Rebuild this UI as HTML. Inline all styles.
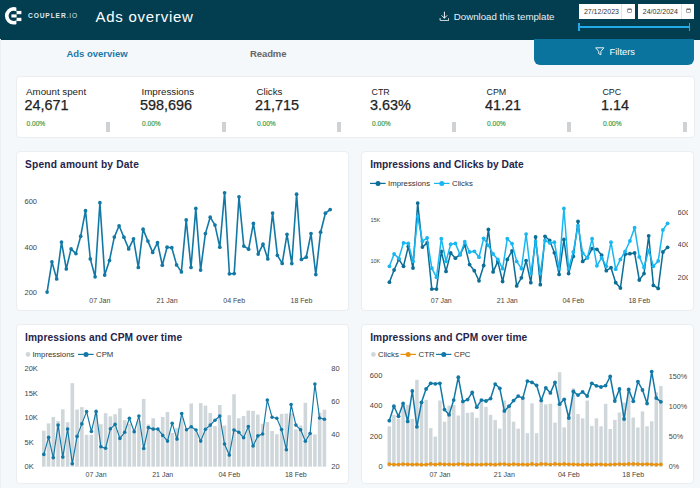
<!DOCTYPE html>
<html><head><meta charset="utf-8"><title>Ads overview</title>
<style>
html,body{margin:0;padding:0;background:#f5f8fa}
body{width:700px;height:488px;overflow:hidden;background:#f5f8fa;font-family:"Liberation Sans",sans-serif;position:relative;color:#333}
.abs{position:absolute}
.hdr{position:absolute;left:0;top:0;width:700px;height:40.1px;background:#033d50}
.t{position:absolute;white-space:nowrap;line-height:1}
.card{position:absolute;background:#fff;border:1px solid #eaeef1;border-radius:4px;box-sizing:border-box}
.ttl{font-weight:bold;font-size:10.2px;color:#25244a}
.ax{font-size:7.5px;color:#444}
.axd{font-size:7px;color:#444}
.axs{font-size:5.5px;color:#444}
.clip{width:10px;overflow:hidden}
.lg{font-size:7.8px;color:#333}
.kn{font-size:9.75px;color:#222}
.kv{font-size:14.4px;color:#222;-webkit-text-stroke:0.25px #222}
.kp{font-size:6.6px;color:#389a42;-webkit-text-stroke:0.15px #389a42}
.kb{position:absolute;width:4px;height:10px;background:#cfd2d4}
.plot{position:absolute;left:0;top:0}
</style></head><body>
<div class="hdr"></div>
<div class="abs" style="left:0;top:39px;width:1.2px;height:449px;background:#ebf0f3"></div>
<!-- logo -->
<svg class="abs" style="left:0;top:0" width="30" height="32" viewBox="0 0 30 32"><defs><clipPath id="lc"><rect x="0" y="0" width="16.4" height="32"/></clipPath></defs><circle cx="13.65" cy="15.85" r="6.9" fill="none" stroke="#fff" stroke-width="3.7" clip-path="url(#lc)"/><rect x="11.4" y="14.4" width="5.2" height="3.1" fill="#fff"/><rect x="16.6" y="10.9" width="4.8" height="3.3" fill="#fff"/><rect x="16.6" y="17.8" width="4.8" height="3.3" fill="#fff"/></svg>
<div class="t " style="left:28px;top:16.2px;transform:translate(0,-50%);font-size:6.6px;color:#dfe9ed;font-weight:bold;letter-spacing:0.9px">COUPLER<span style='font-weight:normal'>.IO</span></div>
<div class="t " style="left:95.5px;top:16.4px;transform:translate(0,-50%);font-size:15px;color:#fff;letter-spacing:0.75px">Ads overview</div>
<svg class="abs" style="left:438.7px;top:10.6px" width="10.8" height="10.8" viewBox="0 0 10 10" fill="none" stroke="#fff" stroke-width="0.9" stroke-linecap="round" stroke-linejoin="round"><path d="M5 1v5.5M2.7 4.3L5 6.6l2.3-2.3M1 7v1.3c0 .4.3.7.7.7h6.6c.4 0 .7-.3.7-.7V7"/></svg>
<div class="t " style="left:453.8px;top:16.6px;transform:translate(0,-50%);font-size:9.7px;color:#eaf1f4">Download this template</div>
<div class="abs" style="left:579.3px;top:3.5px;width:55.7px;height:15px;background:#fff"></div>
<div class="abs" style="left:638.2px;top:3.5px;width:55.7px;height:15px;background:#fff"></div>
<div class="abs" style="left:621.4px;top:3.5px;width:0.6px;height:15px;background:#e3e3e3"></div>
<div class="abs" style="left:680.6px;top:3.5px;width:0.6px;height:15px;background:#e3e3e3"></div>
<div class="t " style="left:583.9px;top:10.8px;transform:translate(0,-50%);font-size:7px;color:#333">27/12/2023</div>
<div class="t " style="left:642.8px;top:10.8px;transform:translate(0,-50%);font-size:7px;color:#333">24/02/2024</div>
<svg class="abs" style="left:626.9px;top:8.3px" width="5" height="5" viewBox="0 0 5 5"><rect x="0.5" y="0.8" width="4" height="3.7" rx="0.6" fill="none" stroke="#777" stroke-width="0.7"/><rect x="0.5" y="0.8" width="4" height="1.2" fill="#777"/></svg>
<svg class="abs" style="left:685.5px;top:8.3px" width="5" height="5" viewBox="0 0 5 5"><rect x="0.5" y="0.8" width="4" height="3.7" rx="0.6" fill="none" stroke="#777" stroke-width="0.7"/><rect x="0.5" y="0.8" width="4" height="1.2" fill="#777"/></svg>
<div class="abs" style="left:578.5px;top:26.1px;width:111.8px;height:1.7px;background:#22aae6"></div>
<div class="abs" style="left:578.4px;top:22.5px;width:1.9px;height:8.8px;background:#22aae6"></div>
<div class="abs" style="left:688.6px;top:22.5px;width:1.9px;height:8.8px;background:#22aae6"></div>
<!-- tabs -->
<div class="t " style="left:97px;top:53.9px;transform:translate(-50%,-50%);font-size:9.5px;font-weight:bold;color:#1b79a8">Ads overview</div>
<div class="t " style="left:268.2px;top:53.9px;transform:translate(-50%,-50%);font-size:9.5px;letter-spacing:-0.1px;font-weight:bold;color:#666">Readme</div>
<div class="abs" style="left:534.2px;top:39px;width:160.3px;height:26.2px;background:#0a749e;border-radius:0 0 6px 6px"></div>
<svg class="abs" style="left:595.3px;top:47.2px" width="10" height="9" viewBox="0 0 10 9" fill="none" stroke="#fff" stroke-width="0.9" stroke-linejoin="round"><path d="M0.7 0.8h8.2L5.9 4.4v3.4L3.7 6.6V4.4z"/></svg>
<div class="t " style="left:609.6px;top:53.1px;transform:translate(0,-50%);font-size:9.3px;color:#fff">Filters</div>
<!-- kpi card -->
<div class="card" style="left:16px;top:76px;width:678.5px;height:62px"></div>
<div class="t kn" style="left:26px;top:91.5px;transform:translate(0,-50%);">Amount spent</div>
<div class="t kv" style="left:24.5px;top:104.8px;transform:translate(0,-50%);">24,671</div>
<div class="t kp" style="left:26.5px;top:124.2px;transform:translate(0,-50%);">0.00%</div>
<div class="kb" style="left:106.3px;top:121.5px"></div>
<div class="t kn" style="left:141.5px;top:91.5px;transform:translate(0,-50%);">Impressions</div>
<div class="t kv" style="left:140.0px;top:104.8px;transform:translate(0,-50%);">598,696</div>
<div class="t kp" style="left:142.0px;top:124.2px;transform:translate(0,-50%);">0.00%</div>
<div class="kb" style="left:221.8px;top:121.5px"></div>
<div class="t kn" style="left:256.5px;top:91.5px;transform:translate(0,-50%);">Clicks</div>
<div class="t kv" style="left:255.0px;top:104.8px;transform:translate(0,-50%);">21,715</div>
<div class="t kp" style="left:257.0px;top:124.2px;transform:translate(0,-50%);">0.00%</div>
<div class="kb" style="left:336.8px;top:121.5px"></div>
<div class="t kn" style="left:371.5px;top:91.5px;transform:translate(0,-50%);font-size:8.9px">CTR</div>
<div class="t kv" style="left:370.0px;top:104.8px;transform:translate(0,-50%);">3.63%</div>
<div class="t kp" style="left:372.0px;top:124.2px;transform:translate(0,-50%);">0.00%</div>
<div class="kb" style="left:451.8px;top:121.5px"></div>
<div class="t kn" style="left:486.5px;top:91.5px;transform:translate(0,-50%);font-size:8.9px">CPM</div>
<div class="t kv" style="left:485.0px;top:104.8px;transform:translate(0,-50%);">41.21</div>
<div class="t kp" style="left:487.0px;top:124.2px;transform:translate(0,-50%);">0.00%</div>
<div class="kb" style="left:566.8px;top:121.5px"></div>
<div class="t kn" style="left:602.4px;top:91.5px;transform:translate(0,-50%);font-size:8.9px">CPC</div>
<div class="t kv" style="left:600.9px;top:104.8px;transform:translate(0,-50%);">1.14</div>
<div class="t kp" style="left:602.9px;top:124.2px;transform:translate(0,-50%);">0.00%</div>
<div class="kb" style="left:682.6999999999999px;top:121.5px"></div>
<!-- chart cards -->
<div class="card" style="left:16px;top:151px;width:333px;height:160px"></div>
<div class="card" style="left:361px;top:151px;width:333px;height:160px"></div>
<div class="card" style="left:16px;top:324px;width:333px;height:160px"></div>
<div class="card" style="left:361px;top:324px;width:333px;height:160px"></div>
<div class="t ttl" style="left:25px;top:164.8px;transform:translate(0,-50%);letter-spacing:0.18px">Spend amount by Date</div>
<div class="t ttl" style="left:370.2px;top:164.8px;transform:translate(0,-50%);">Impressions and Clicks by Date</div>
<div class="t ttl" style="left:25px;top:337.7px;transform:translate(0,-50%);letter-spacing:0.09px">Impressions and CPM over time</div>
<div class="t ttl" style="left:370.2px;top:337.7px;transform:translate(0,-50%);letter-spacing:0.09px">Impressions and CPM over time</div>
<!-- legends -->
<svg class="plot" width="700" height="488" viewBox="0 0 700 488">
<line x1="370" y1="183.4" x2="385.6" y2="183.4" stroke="#0c6e97" stroke-width="1.2"/><circle cx="378" cy="183.4" r="2.5" fill="#0c6e97"/>
<line x1="434" y1="183.4" x2="449.6" y2="183.4" stroke="#18b7f2" stroke-width="1.2"/><circle cx="441.8" cy="183.4" r="2.5" fill="#18b7f2"/>
<circle cx="28" cy="354.4" r="2.3" fill="#d0d7db"/>
<line x1="78" y1="354.4" x2="93.6" y2="354.4" stroke="#1278a6" stroke-width="1.2"/><circle cx="86" cy="354.4" r="2.5" fill="#1278a6"/>
<circle cx="373.4" cy="354.4" r="2.3" fill="#d0d7db"/>
<line x1="400.4" y1="354.4" x2="416" y2="354.4" stroke="#e8920f" stroke-width="1.2"/><circle cx="408.2" cy="354.4" r="2.5" fill="#e8920f"/>
<line x1="436" y1="354.4" x2="451.4" y2="354.4" stroke="#1278a6" stroke-width="1.2"/><circle cx="443.8" cy="354.4" r="2.5" fill="#1278a6"/>
</svg>
<div class="t lg" style="left:388px;top:184.0px;transform:translate(0,-50%);">Impressions</div>
<div class="t lg" style="left:452px;top:184.0px;transform:translate(0,-50%);">Clicks</div>
<div class="t lg" style="left:32.4px;top:355.0px;transform:translate(0,-50%);">Impressions</div>
<div class="t lg" style="left:96px;top:355.0px;transform:translate(0,-50%);">CPM</div>
<div class="t lg" style="left:378px;top:355.0px;transform:translate(0,-50%);">Clicks</div>
<div class="t lg" style="left:418.6px;top:355.0px;transform:translate(0,-50%);">CTR</div>
<div class="t lg" style="left:454px;top:355.0px;transform:translate(0,-50%);">CPC</div>
<svg class="plot" width="700" height="488" viewBox="0 0 700 488">
<polyline fill="none" stroke="#1278a6" stroke-width="1.6" stroke-linejoin="round" points="47.1,292.1 51.9,261.8 56.7,278.9 61.5,242.1 66.3,268.9 71.1,248.9 75.9,253.6 80.7,236.2 85.5,210.7 90.3,258.9 95.1,276.8 99.9,202.7 104.7,275.1 109.5,260.4 114.3,237.1 119.1,225.8 123.9,237.2 128.7,248.9 133.5,238.8 138.3,267.4 143.1,229.2 147.9,241.1 152.7,252.4 157.5,242.7 162.3,265.2 167.1,247.2 171.8,247.7 176.6,264.9 181.4,271.9 186.2,219.9 191.0,267.4 195.8,208.4 200.6,270.1 205.4,233.6 210.2,217.2 215.0,225.1 219.8,247.2 224.6,192.8 229.4,273.8 234.2,273.6 239.0,196.8 243.8,246.1 248.6,249.2 253.4,223.4 258.2,254.1 263.0,244.2 267.8,258.9 272.6,213.1 277.4,255.3 282.2,263.4 287.0,234.3 291.8,263.6 296.6,194.2 301.4,259.4 306.2,257.2 311.0,233.6 315.8,274.6 320.6,232.2 325.4,213.2 330.2,209.6"/>
<circle cx="47.1" cy="292.1" r="1.85" fill="#1278a6"/><circle cx="51.9" cy="261.8" r="1.85" fill="#1278a6"/><circle cx="56.7" cy="278.9" r="1.85" fill="#1278a6"/><circle cx="61.5" cy="242.1" r="1.85" fill="#1278a6"/><circle cx="66.3" cy="268.9" r="1.85" fill="#1278a6"/><circle cx="71.1" cy="248.9" r="1.85" fill="#1278a6"/><circle cx="75.9" cy="253.6" r="1.85" fill="#1278a6"/><circle cx="80.7" cy="236.2" r="1.85" fill="#1278a6"/><circle cx="85.5" cy="210.7" r="1.85" fill="#1278a6"/><circle cx="90.3" cy="258.9" r="1.85" fill="#1278a6"/><circle cx="95.1" cy="276.8" r="1.85" fill="#1278a6"/><circle cx="99.9" cy="202.7" r="1.85" fill="#1278a6"/><circle cx="104.7" cy="275.1" r="1.85" fill="#1278a6"/><circle cx="109.5" cy="260.4" r="1.85" fill="#1278a6"/><circle cx="114.3" cy="237.1" r="1.85" fill="#1278a6"/><circle cx="119.1" cy="225.8" r="1.85" fill="#1278a6"/><circle cx="123.9" cy="237.2" r="1.85" fill="#1278a6"/><circle cx="128.7" cy="248.9" r="1.85" fill="#1278a6"/><circle cx="133.5" cy="238.8" r="1.85" fill="#1278a6"/><circle cx="138.3" cy="267.4" r="1.85" fill="#1278a6"/><circle cx="143.1" cy="229.2" r="1.85" fill="#1278a6"/><circle cx="147.9" cy="241.1" r="1.85" fill="#1278a6"/><circle cx="152.7" cy="252.4" r="1.85" fill="#1278a6"/><circle cx="157.5" cy="242.7" r="1.85" fill="#1278a6"/><circle cx="162.3" cy="265.2" r="1.85" fill="#1278a6"/><circle cx="167.1" cy="247.2" r="1.85" fill="#1278a6"/><circle cx="171.8" cy="247.7" r="1.85" fill="#1278a6"/><circle cx="176.6" cy="264.9" r="1.85" fill="#1278a6"/><circle cx="181.4" cy="271.9" r="1.85" fill="#1278a6"/><circle cx="186.2" cy="219.9" r="1.85" fill="#1278a6"/><circle cx="191.0" cy="267.4" r="1.85" fill="#1278a6"/><circle cx="195.8" cy="208.4" r="1.85" fill="#1278a6"/><circle cx="200.6" cy="270.1" r="1.85" fill="#1278a6"/><circle cx="205.4" cy="233.6" r="1.85" fill="#1278a6"/><circle cx="210.2" cy="217.2" r="1.85" fill="#1278a6"/><circle cx="215.0" cy="225.1" r="1.85" fill="#1278a6"/><circle cx="219.8" cy="247.2" r="1.85" fill="#1278a6"/><circle cx="224.6" cy="192.8" r="1.85" fill="#1278a6"/><circle cx="229.4" cy="273.8" r="1.85" fill="#1278a6"/><circle cx="234.2" cy="273.6" r="1.85" fill="#1278a6"/><circle cx="239.0" cy="196.8" r="1.85" fill="#1278a6"/><circle cx="243.8" cy="246.1" r="1.85" fill="#1278a6"/><circle cx="248.6" cy="249.2" r="1.85" fill="#1278a6"/><circle cx="253.4" cy="223.4" r="1.85" fill="#1278a6"/><circle cx="258.2" cy="254.1" r="1.85" fill="#1278a6"/><circle cx="263.0" cy="244.2" r="1.85" fill="#1278a6"/><circle cx="267.8" cy="258.9" r="1.85" fill="#1278a6"/><circle cx="272.6" cy="213.1" r="1.85" fill="#1278a6"/><circle cx="277.4" cy="255.3" r="1.85" fill="#1278a6"/><circle cx="282.2" cy="263.4" r="1.85" fill="#1278a6"/><circle cx="287.0" cy="234.3" r="1.85" fill="#1278a6"/><circle cx="291.8" cy="263.6" r="1.85" fill="#1278a6"/><circle cx="296.6" cy="194.2" r="1.85" fill="#1278a6"/><circle cx="301.4" cy="259.4" r="1.85" fill="#1278a6"/><circle cx="306.2" cy="257.2" r="1.85" fill="#1278a6"/><circle cx="311.0" cy="233.6" r="1.85" fill="#1278a6"/><circle cx="315.8" cy="274.6" r="1.85" fill="#1278a6"/><circle cx="320.6" cy="232.2" r="1.85" fill="#1278a6"/><circle cx="325.4" cy="213.2" r="1.85" fill="#1278a6"/><circle cx="330.2" cy="209.6" r="1.85" fill="#1278a6"/>
<polyline fill="none" stroke="#0c6e97" stroke-width="1.5" stroke-linejoin="round" points="389.4,282.2 394.1,270.0 398.8,259.4 403.5,266.3 408.3,246.6 413.0,268.0 417.7,203.1 422.4,247.1 427.1,242.9 431.8,289.1 436.5,289.1 441.3,251.5 446.0,271.4 450.7,253.0 455.4,258.2 460.1,254.7 464.8,244.9 469.6,264.6 474.3,270.7 479.0,280.8 483.7,265.5 488.4,229.4 493.1,271.9 497.8,261.4 502.6,281.5 507.3,259.4 512.0,251.0 516.7,285.9 521.4,277.8 526.1,260.6 530.8,282.7 535.6,237.0 540.3,284.7 545.0,236.3 549.7,240.5 554.4,252.8 559.1,274.4 563.9,239.5 568.6,273.6 573.3,256.4 578.0,221.5 582.7,261.4 587.4,257.7 592.1,248.6 596.9,249.3 601.6,255.2 606.3,270.7 611.0,267.7 615.7,282.7 620.4,288.1 625.1,254.2 629.9,253.7 634.6,253.0 639.3,280.0 644.0,273.6 648.7,235.8 653.4,285.4 658.2,288.4 662.9,252.0 667.6,247.3"/>
<circle cx="389.4" cy="282.2" r="1.9" fill="#0c6e97"/><circle cx="394.1" cy="270.0" r="1.9" fill="#0c6e97"/><circle cx="398.8" cy="259.4" r="1.9" fill="#0c6e97"/><circle cx="403.5" cy="266.3" r="1.9" fill="#0c6e97"/><circle cx="408.3" cy="246.6" r="1.9" fill="#0c6e97"/><circle cx="413.0" cy="268.0" r="1.9" fill="#0c6e97"/><circle cx="417.7" cy="203.1" r="1.9" fill="#0c6e97"/><circle cx="422.4" cy="247.1" r="1.9" fill="#0c6e97"/><circle cx="427.1" cy="242.9" r="1.9" fill="#0c6e97"/><circle cx="431.8" cy="289.1" r="1.9" fill="#0c6e97"/><circle cx="436.5" cy="289.1" r="1.9" fill="#0c6e97"/><circle cx="441.3" cy="251.5" r="1.9" fill="#0c6e97"/><circle cx="446.0" cy="271.4" r="1.9" fill="#0c6e97"/><circle cx="450.7" cy="253.0" r="1.9" fill="#0c6e97"/><circle cx="455.4" cy="258.2" r="1.9" fill="#0c6e97"/><circle cx="460.1" cy="254.7" r="1.9" fill="#0c6e97"/><circle cx="464.8" cy="244.9" r="1.9" fill="#0c6e97"/><circle cx="469.6" cy="264.6" r="1.9" fill="#0c6e97"/><circle cx="474.3" cy="270.7" r="1.9" fill="#0c6e97"/><circle cx="479.0" cy="280.8" r="1.9" fill="#0c6e97"/><circle cx="483.7" cy="265.5" r="1.9" fill="#0c6e97"/><circle cx="488.4" cy="229.4" r="1.9" fill="#0c6e97"/><circle cx="493.1" cy="271.9" r="1.9" fill="#0c6e97"/><circle cx="497.8" cy="261.4" r="1.9" fill="#0c6e97"/><circle cx="502.6" cy="281.5" r="1.9" fill="#0c6e97"/><circle cx="507.3" cy="259.4" r="1.9" fill="#0c6e97"/><circle cx="512.0" cy="251.0" r="1.9" fill="#0c6e97"/><circle cx="516.7" cy="285.9" r="1.9" fill="#0c6e97"/><circle cx="521.4" cy="277.8" r="1.9" fill="#0c6e97"/><circle cx="526.1" cy="260.6" r="1.9" fill="#0c6e97"/><circle cx="530.8" cy="282.7" r="1.9" fill="#0c6e97"/><circle cx="535.6" cy="237.0" r="1.9" fill="#0c6e97"/><circle cx="540.3" cy="284.7" r="1.9" fill="#0c6e97"/><circle cx="545.0" cy="236.3" r="1.9" fill="#0c6e97"/><circle cx="549.7" cy="240.5" r="1.9" fill="#0c6e97"/><circle cx="554.4" cy="252.8" r="1.9" fill="#0c6e97"/><circle cx="559.1" cy="274.4" r="1.9" fill="#0c6e97"/><circle cx="563.9" cy="239.5" r="1.9" fill="#0c6e97"/><circle cx="568.6" cy="273.6" r="1.9" fill="#0c6e97"/><circle cx="573.3" cy="256.4" r="1.9" fill="#0c6e97"/><circle cx="578.0" cy="221.5" r="1.9" fill="#0c6e97"/><circle cx="582.7" cy="261.4" r="1.9" fill="#0c6e97"/><circle cx="587.4" cy="257.7" r="1.9" fill="#0c6e97"/><circle cx="592.1" cy="248.6" r="1.9" fill="#0c6e97"/><circle cx="596.9" cy="249.3" r="1.9" fill="#0c6e97"/><circle cx="601.6" cy="255.2" r="1.9" fill="#0c6e97"/><circle cx="606.3" cy="270.7" r="1.9" fill="#0c6e97"/><circle cx="611.0" cy="267.7" r="1.9" fill="#0c6e97"/><circle cx="615.7" cy="282.7" r="1.9" fill="#0c6e97"/><circle cx="620.4" cy="288.1" r="1.9" fill="#0c6e97"/><circle cx="625.1" cy="254.2" r="1.9" fill="#0c6e97"/><circle cx="629.9" cy="253.7" r="1.9" fill="#0c6e97"/><circle cx="634.6" cy="253.0" r="1.9" fill="#0c6e97"/><circle cx="639.3" cy="280.0" r="1.9" fill="#0c6e97"/><circle cx="644.0" cy="273.6" r="1.9" fill="#0c6e97"/><circle cx="648.7" cy="235.8" r="1.9" fill="#0c6e97"/><circle cx="653.4" cy="285.4" r="1.9" fill="#0c6e97"/><circle cx="658.2" cy="288.4" r="1.9" fill="#0c6e97"/><circle cx="662.9" cy="252.0" r="1.9" fill="#0c6e97"/><circle cx="667.6" cy="247.3" r="1.9" fill="#0c6e97"/>
<polyline fill="none" stroke="#18b7f2" stroke-width="1.5" stroke-linejoin="round" points="389.4,266.3 394.1,254.0 398.8,258.4 403.5,242.9 408.3,243.4 413.0,261.4 417.7,216.6 422.4,241.2 427.1,238.0 431.8,268.2 436.5,277.3 441.3,238.7 446.0,261.4 450.7,244.2 455.4,243.4 460.1,254.7 464.8,241.7 469.6,252.0 474.3,251.3 479.0,257.2 483.7,238.3 488.4,245.4 493.1,254.0 497.8,259.4 502.6,268.7 507.3,238.7 512.0,243.7 516.7,261.4 521.4,268.7 526.1,234.1 530.8,273.6 535.6,241.7 540.3,273.6 545.0,240.5 549.7,242.9 554.4,242.2 559.1,268.7 563.9,208.5 568.6,268.7 573.3,252.0 578.0,225.7 582.7,253.2 587.4,257.7 592.1,238.7 596.9,265.8 601.6,257.7 606.3,266.3 611.0,242.2 615.7,269.2 620.4,259.4 625.1,251.5 629.9,241.0 634.6,227.7 639.3,256.9 644.0,267.5 648.7,250.3 653.4,266.3 658.2,260.9 662.9,229.9 667.6,223.3"/>
<circle cx="389.4" cy="266.3" r="1.9" fill="#18b7f2"/><circle cx="394.1" cy="254.0" r="1.9" fill="#18b7f2"/><circle cx="398.8" cy="258.4" r="1.9" fill="#18b7f2"/><circle cx="403.5" cy="242.9" r="1.9" fill="#18b7f2"/><circle cx="408.3" cy="243.4" r="1.9" fill="#18b7f2"/><circle cx="413.0" cy="261.4" r="1.9" fill="#18b7f2"/><circle cx="417.7" cy="216.6" r="1.9" fill="#18b7f2"/><circle cx="422.4" cy="241.2" r="1.9" fill="#18b7f2"/><circle cx="427.1" cy="238.0" r="1.9" fill="#18b7f2"/><circle cx="431.8" cy="268.2" r="1.9" fill="#18b7f2"/><circle cx="436.5" cy="277.3" r="1.9" fill="#18b7f2"/><circle cx="441.3" cy="238.7" r="1.9" fill="#18b7f2"/><circle cx="446.0" cy="261.4" r="1.9" fill="#18b7f2"/><circle cx="450.7" cy="244.2" r="1.9" fill="#18b7f2"/><circle cx="455.4" cy="243.4" r="1.9" fill="#18b7f2"/><circle cx="460.1" cy="254.7" r="1.9" fill="#18b7f2"/><circle cx="464.8" cy="241.7" r="1.9" fill="#18b7f2"/><circle cx="469.6" cy="252.0" r="1.9" fill="#18b7f2"/><circle cx="474.3" cy="251.3" r="1.9" fill="#18b7f2"/><circle cx="479.0" cy="257.2" r="1.9" fill="#18b7f2"/><circle cx="483.7" cy="238.3" r="1.9" fill="#18b7f2"/><circle cx="488.4" cy="245.4" r="1.9" fill="#18b7f2"/><circle cx="493.1" cy="254.0" r="1.9" fill="#18b7f2"/><circle cx="497.8" cy="259.4" r="1.9" fill="#18b7f2"/><circle cx="502.6" cy="268.7" r="1.9" fill="#18b7f2"/><circle cx="507.3" cy="238.7" r="1.9" fill="#18b7f2"/><circle cx="512.0" cy="243.7" r="1.9" fill="#18b7f2"/><circle cx="516.7" cy="261.4" r="1.9" fill="#18b7f2"/><circle cx="521.4" cy="268.7" r="1.9" fill="#18b7f2"/><circle cx="526.1" cy="234.1" r="1.9" fill="#18b7f2"/><circle cx="530.8" cy="273.6" r="1.9" fill="#18b7f2"/><circle cx="535.6" cy="241.7" r="1.9" fill="#18b7f2"/><circle cx="540.3" cy="273.6" r="1.9" fill="#18b7f2"/><circle cx="545.0" cy="240.5" r="1.9" fill="#18b7f2"/><circle cx="549.7" cy="242.9" r="1.9" fill="#18b7f2"/><circle cx="554.4" cy="242.2" r="1.9" fill="#18b7f2"/><circle cx="559.1" cy="268.7" r="1.9" fill="#18b7f2"/><circle cx="563.9" cy="208.5" r="1.9" fill="#18b7f2"/><circle cx="568.6" cy="268.7" r="1.9" fill="#18b7f2"/><circle cx="573.3" cy="252.0" r="1.9" fill="#18b7f2"/><circle cx="578.0" cy="225.7" r="1.9" fill="#18b7f2"/><circle cx="582.7" cy="253.2" r="1.9" fill="#18b7f2"/><circle cx="587.4" cy="257.7" r="1.9" fill="#18b7f2"/><circle cx="592.1" cy="238.7" r="1.9" fill="#18b7f2"/><circle cx="596.9" cy="265.8" r="1.9" fill="#18b7f2"/><circle cx="601.6" cy="257.7" r="1.9" fill="#18b7f2"/><circle cx="606.3" cy="266.3" r="1.9" fill="#18b7f2"/><circle cx="611.0" cy="242.2" r="1.9" fill="#18b7f2"/><circle cx="615.7" cy="269.2" r="1.9" fill="#18b7f2"/><circle cx="620.4" cy="259.4" r="1.9" fill="#18b7f2"/><circle cx="625.1" cy="251.5" r="1.9" fill="#18b7f2"/><circle cx="629.9" cy="241.0" r="1.9" fill="#18b7f2"/><circle cx="634.6" cy="227.7" r="1.9" fill="#18b7f2"/><circle cx="639.3" cy="256.9" r="1.9" fill="#18b7f2"/><circle cx="644.0" cy="267.5" r="1.9" fill="#18b7f2"/><circle cx="648.7" cy="250.3" r="1.9" fill="#18b7f2"/><circle cx="653.4" cy="266.3" r="1.9" fill="#18b7f2"/><circle cx="658.2" cy="260.9" r="1.9" fill="#18b7f2"/><circle cx="662.9" cy="229.9" r="1.9" fill="#18b7f2"/><circle cx="667.6" cy="223.3" r="1.9" fill="#18b7f2"/>
<rect x="42.00" y="430.7" width="3.6" height="36.0" fill="#d0d7db"/><rect x="46.76" y="423.4" width="3.6" height="43.3" fill="#d0d7db"/><rect x="51.51" y="417.0" width="3.6" height="49.7" fill="#d0d7db"/><rect x="56.27" y="421.1" width="3.6" height="45.6" fill="#d0d7db"/><rect x="61.02" y="409.3" width="3.6" height="57.4" fill="#d0d7db"/><rect x="65.78" y="422.2" width="3.6" height="44.5" fill="#d0d7db"/><rect x="70.54" y="383.2" width="3.6" height="83.5" fill="#d0d7db"/><rect x="75.29" y="409.6" width="3.6" height="57.1" fill="#d0d7db"/><rect x="80.05" y="407.1" width="3.6" height="59.6" fill="#d0d7db"/><rect x="84.80" y="434.8" width="3.6" height="31.9" fill="#d0d7db"/><rect x="89.56" y="434.8" width="3.6" height="31.9" fill="#d0d7db"/><rect x="94.32" y="412.3" width="3.6" height="54.4" fill="#d0d7db"/><rect x="99.07" y="424.2" width="3.6" height="42.5" fill="#d0d7db"/><rect x="103.83" y="413.2" width="3.6" height="53.5" fill="#d0d7db"/><rect x="108.58" y="416.3" width="3.6" height="50.4" fill="#d0d7db"/><rect x="113.34" y="414.2" width="3.6" height="52.5" fill="#d0d7db"/><rect x="118.10" y="408.3" width="3.6" height="58.4" fill="#d0d7db"/><rect x="122.85" y="420.1" width="3.6" height="46.6" fill="#d0d7db"/><rect x="127.61" y="423.8" width="3.6" height="42.9" fill="#d0d7db"/><rect x="132.36" y="429.9" width="3.6" height="36.8" fill="#d0d7db"/><rect x="137.12" y="420.7" width="3.6" height="46.0" fill="#d0d7db"/><rect x="141.88" y="399.0" width="3.6" height="67.7" fill="#d0d7db"/><rect x="146.63" y="424.5" width="3.6" height="42.2" fill="#d0d7db"/><rect x="151.39" y="418.2" width="3.6" height="48.5" fill="#d0d7db"/><rect x="156.14" y="430.3" width="3.6" height="36.4" fill="#d0d7db"/><rect x="160.90" y="417.0" width="3.6" height="49.7" fill="#d0d7db"/><rect x="165.66" y="412.0" width="3.6" height="54.7" fill="#d0d7db"/><rect x="170.41" y="432.9" width="3.6" height="33.8" fill="#d0d7db"/><rect x="175.17" y="428.1" width="3.6" height="38.6" fill="#d0d7db"/><rect x="179.92" y="417.7" width="3.6" height="49.0" fill="#d0d7db"/><rect x="184.68" y="431.0" width="3.6" height="35.7" fill="#d0d7db"/><rect x="189.44" y="403.5" width="3.6" height="63.2" fill="#d0d7db"/><rect x="194.19" y="432.2" width="3.6" height="34.5" fill="#d0d7db"/><rect x="198.95" y="403.1" width="3.6" height="63.6" fill="#d0d7db"/><rect x="203.70" y="405.6" width="3.6" height="61.1" fill="#d0d7db"/><rect x="208.46" y="413.0" width="3.6" height="53.7" fill="#d0d7db"/><rect x="213.22" y="426.0" width="3.6" height="40.7" fill="#d0d7db"/><rect x="217.97" y="405.0" width="3.6" height="61.7" fill="#d0d7db"/><rect x="222.73" y="425.5" width="3.6" height="41.2" fill="#d0d7db"/><rect x="227.48" y="415.2" width="3.6" height="51.5" fill="#d0d7db"/><rect x="232.24" y="394.2" width="3.6" height="72.5" fill="#d0d7db"/><rect x="237.00" y="418.2" width="3.6" height="48.5" fill="#d0d7db"/><rect x="241.75" y="416.0" width="3.6" height="50.7" fill="#d0d7db"/><rect x="246.51" y="410.5" width="3.6" height="56.2" fill="#d0d7db"/><rect x="251.26" y="410.9" width="3.6" height="55.8" fill="#d0d7db"/><rect x="256.02" y="414.5" width="3.6" height="52.2" fill="#d0d7db"/><rect x="260.78" y="423.8" width="3.6" height="42.9" fill="#d0d7db"/><rect x="265.53" y="422.0" width="3.6" height="44.7" fill="#d0d7db"/><rect x="270.29" y="431.0" width="3.6" height="35.7" fill="#d0d7db"/><rect x="275.04" y="434.2" width="3.6" height="32.5" fill="#d0d7db"/><rect x="279.80" y="413.9" width="3.6" height="52.8" fill="#d0d7db"/><rect x="284.56" y="413.6" width="3.6" height="53.1" fill="#d0d7db"/><rect x="289.31" y="413.2" width="3.6" height="53.5" fill="#d0d7db"/><rect x="294.07" y="429.4" width="3.6" height="37.3" fill="#d0d7db"/><rect x="298.82" y="425.5" width="3.6" height="41.2" fill="#d0d7db"/><rect x="303.58" y="402.8" width="3.6" height="63.9" fill="#d0d7db"/><rect x="308.34" y="432.6" width="3.6" height="34.1" fill="#d0d7db"/><rect x="313.09" y="434.4" width="3.6" height="32.3" fill="#d0d7db"/><rect x="317.85" y="412.6" width="3.6" height="54.1" fill="#d0d7db"/><rect x="322.60" y="409.7" width="3.6" height="57.0" fill="#d0d7db"/>
<polyline fill="none" stroke="#1278a6" stroke-width="1.15" stroke-linejoin="round" points="43.8,454.4 48.6,437.4 53.3,457.8 58.1,425.1 62.8,457.1 67.6,429.1 72.3,463.7 77.1,436.4 81.8,423.9 86.6,411.6 91.4,431.5 96.1,411.4 100.9,446.8 105.6,448.2 110.4,428.8 115.1,424.4 119.9,438.4 124.7,432.3 129.4,418.2 134.2,431.8 138.9,416.0 143.7,448.5 148.4,427.6 153.2,429.1 157.9,429.1 162.7,435.4 167.5,441.1 172.2,423.2 177.0,439.1 181.7,413.6 186.5,429.8 191.2,426.8 196.0,430.0 200.7,441.1 205.5,429.3 210.3,425.1 215.0,420.2 219.8,416.0 224.5,444.0 229.3,455.1 234.0,430.0 238.8,432.3 243.6,437.7 248.3,426.6 253.1,446.0 257.8,435.9 262.6,434.0 267.3,400.1 272.1,417.3 276.8,418.2 281.6,429.6 286.4,449.7 291.1,404.5 295.9,425.1 300.6,429.8 305.4,441.3 310.1,433.5 314.9,384.1 319.6,418.0 324.4,419.2"/>
<circle cx="43.8" cy="454.4" r="1.8" fill="#1278a6"/><circle cx="48.6" cy="437.4" r="1.8" fill="#1278a6"/><circle cx="53.3" cy="457.8" r="1.8" fill="#1278a6"/><circle cx="58.1" cy="425.1" r="1.8" fill="#1278a6"/><circle cx="62.8" cy="457.1" r="1.8" fill="#1278a6"/><circle cx="67.6" cy="429.1" r="1.8" fill="#1278a6"/><circle cx="72.3" cy="463.7" r="1.8" fill="#1278a6"/><circle cx="77.1" cy="436.4" r="1.8" fill="#1278a6"/><circle cx="81.8" cy="423.9" r="1.8" fill="#1278a6"/><circle cx="86.6" cy="411.6" r="1.8" fill="#1278a6"/><circle cx="91.4" cy="431.5" r="1.8" fill="#1278a6"/><circle cx="96.1" cy="411.4" r="1.8" fill="#1278a6"/><circle cx="100.9" cy="446.8" r="1.8" fill="#1278a6"/><circle cx="105.6" cy="448.2" r="1.8" fill="#1278a6"/><circle cx="110.4" cy="428.8" r="1.8" fill="#1278a6"/><circle cx="115.1" cy="424.4" r="1.8" fill="#1278a6"/><circle cx="119.9" cy="438.4" r="1.8" fill="#1278a6"/><circle cx="124.7" cy="432.3" r="1.8" fill="#1278a6"/><circle cx="129.4" cy="418.2" r="1.8" fill="#1278a6"/><circle cx="134.2" cy="431.8" r="1.8" fill="#1278a6"/><circle cx="138.9" cy="416.0" r="1.8" fill="#1278a6"/><circle cx="143.7" cy="448.5" r="1.8" fill="#1278a6"/><circle cx="148.4" cy="427.6" r="1.8" fill="#1278a6"/><circle cx="153.2" cy="429.1" r="1.8" fill="#1278a6"/><circle cx="157.9" cy="429.1" r="1.8" fill="#1278a6"/><circle cx="162.7" cy="435.4" r="1.8" fill="#1278a6"/><circle cx="167.5" cy="441.1" r="1.8" fill="#1278a6"/><circle cx="172.2" cy="423.2" r="1.8" fill="#1278a6"/><circle cx="177.0" cy="439.1" r="1.8" fill="#1278a6"/><circle cx="181.7" cy="413.6" r="1.8" fill="#1278a6"/><circle cx="186.5" cy="429.8" r="1.8" fill="#1278a6"/><circle cx="191.2" cy="426.8" r="1.8" fill="#1278a6"/><circle cx="196.0" cy="430.0" r="1.8" fill="#1278a6"/><circle cx="200.7" cy="441.1" r="1.8" fill="#1278a6"/><circle cx="205.5" cy="429.3" r="1.8" fill="#1278a6"/><circle cx="210.3" cy="425.1" r="1.8" fill="#1278a6"/><circle cx="215.0" cy="420.2" r="1.8" fill="#1278a6"/><circle cx="219.8" cy="416.0" r="1.8" fill="#1278a6"/><circle cx="224.5" cy="444.0" r="1.8" fill="#1278a6"/><circle cx="229.3" cy="455.1" r="1.8" fill="#1278a6"/><circle cx="234.0" cy="430.0" r="1.8" fill="#1278a6"/><circle cx="238.8" cy="432.3" r="1.8" fill="#1278a6"/><circle cx="243.6" cy="437.7" r="1.8" fill="#1278a6"/><circle cx="248.3" cy="426.6" r="1.8" fill="#1278a6"/><circle cx="253.1" cy="446.0" r="1.8" fill="#1278a6"/><circle cx="257.8" cy="435.9" r="1.8" fill="#1278a6"/><circle cx="262.6" cy="434.0" r="1.8" fill="#1278a6"/><circle cx="267.3" cy="400.1" r="1.8" fill="#1278a6"/><circle cx="272.1" cy="417.3" r="1.8" fill="#1278a6"/><circle cx="276.8" cy="418.2" r="1.8" fill="#1278a6"/><circle cx="281.6" cy="429.6" r="1.8" fill="#1278a6"/><circle cx="286.4" cy="449.7" r="1.8" fill="#1278a6"/><circle cx="291.1" cy="404.5" r="1.8" fill="#1278a6"/><circle cx="295.9" cy="425.1" r="1.8" fill="#1278a6"/><circle cx="300.6" cy="429.8" r="1.8" fill="#1278a6"/><circle cx="305.4" cy="441.3" r="1.8" fill="#1278a6"/><circle cx="310.1" cy="433.5" r="1.8" fill="#1278a6"/><circle cx="314.9" cy="384.1" r="1.8" fill="#1278a6"/><circle cx="319.6" cy="418.0" r="1.8" fill="#1278a6"/><circle cx="324.4" cy="419.2" r="1.8" fill="#1278a6"/>
<rect x="387.55" y="426.3" width="3.5" height="40.4" fill="#d0d7db"/><rect x="392.15" y="414.8" width="3.5" height="51.9" fill="#d0d7db"/><rect x="396.76" y="418.9" width="3.5" height="47.8" fill="#d0d7db"/><rect x="401.36" y="404.4" width="3.5" height="62.3" fill="#d0d7db"/><rect x="405.96" y="404.9" width="3.5" height="61.8" fill="#d0d7db"/><rect x="410.56" y="418.8" width="3.5" height="47.9" fill="#d0d7db"/><rect x="415.17" y="379.8" width="3.5" height="86.9" fill="#d0d7db"/><rect x="419.77" y="402.8" width="3.5" height="63.9" fill="#d0d7db"/><rect x="424.37" y="399.8" width="3.5" height="66.9" fill="#d0d7db"/><rect x="428.98" y="428.1" width="3.5" height="38.6" fill="#d0d7db"/><rect x="433.58" y="436.6" width="3.5" height="30.1" fill="#d0d7db"/><rect x="438.18" y="400.5" width="3.5" height="66.2" fill="#d0d7db"/><rect x="442.79" y="421.7" width="3.5" height="45.0" fill="#d0d7db"/><rect x="447.39" y="405.6" width="3.5" height="61.1" fill="#d0d7db"/><rect x="451.99" y="404.9" width="3.5" height="61.8" fill="#d0d7db"/><rect x="456.60" y="415.5" width="3.5" height="51.2" fill="#d0d7db"/><rect x="461.20" y="403.3" width="3.5" height="63.4" fill="#d0d7db"/><rect x="465.80" y="412.9" width="3.5" height="53.8" fill="#d0d7db"/><rect x="470.40" y="412.3" width="3.5" height="54.4" fill="#d0d7db"/><rect x="475.01" y="417.8" width="3.5" height="48.9" fill="#d0d7db"/><rect x="479.61" y="400.1" width="3.5" height="66.6" fill="#d0d7db"/><rect x="484.21" y="406.8" width="3.5" height="59.9" fill="#d0d7db"/><rect x="488.82" y="414.8" width="3.5" height="51.9" fill="#d0d7db"/><rect x="493.42" y="419.9" width="3.5" height="46.8" fill="#d0d7db"/><rect x="498.02" y="428.6" width="3.5" height="38.1" fill="#d0d7db"/><rect x="502.62" y="400.5" width="3.5" height="66.2" fill="#d0d7db"/><rect x="507.23" y="405.2" width="3.5" height="61.5" fill="#d0d7db"/><rect x="511.83" y="421.7" width="3.5" height="45.0" fill="#d0d7db"/><rect x="516.43" y="428.6" width="3.5" height="38.1" fill="#d0d7db"/><rect x="521.04" y="396.2" width="3.5" height="70.5" fill="#d0d7db"/><rect x="525.64" y="433.2" width="3.5" height="33.5" fill="#d0d7db"/><rect x="530.24" y="403.3" width="3.5" height="63.4" fill="#d0d7db"/><rect x="534.85" y="433.2" width="3.5" height="33.5" fill="#d0d7db"/><rect x="539.45" y="402.2" width="3.5" height="64.5" fill="#d0d7db"/><rect x="544.05" y="404.4" width="3.5" height="62.3" fill="#d0d7db"/><rect x="548.65" y="403.8" width="3.5" height="62.9" fill="#d0d7db"/><rect x="553.26" y="422.6" width="3.5" height="44.1" fill="#d0d7db"/><rect x="557.86" y="372.2" width="3.5" height="94.5" fill="#d0d7db"/><rect x="562.46" y="427.4" width="3.5" height="39.3" fill="#d0d7db"/><rect x="567.07" y="412.9" width="3.5" height="53.8" fill="#d0d7db"/><rect x="571.67" y="388.3" width="3.5" height="78.4" fill="#d0d7db"/><rect x="576.27" y="414.1" width="3.5" height="52.6" fill="#d0d7db"/><rect x="580.88" y="418.3" width="3.5" height="48.4" fill="#d0d7db"/><rect x="585.48" y="400.5" width="3.5" height="66.2" fill="#d0d7db"/><rect x="590.08" y="425.9" width="3.5" height="40.8" fill="#d0d7db"/><rect x="594.68" y="418.3" width="3.5" height="48.4" fill="#d0d7db"/><rect x="599.29" y="426.3" width="3.5" height="40.4" fill="#d0d7db"/><rect x="603.89" y="403.8" width="3.5" height="62.9" fill="#d0d7db"/><rect x="608.49" y="429.0" width="3.5" height="37.7" fill="#d0d7db"/><rect x="613.10" y="419.9" width="3.5" height="46.8" fill="#d0d7db"/><rect x="617.70" y="412.5" width="3.5" height="54.2" fill="#d0d7db"/><rect x="622.30" y="402.6" width="3.5" height="64.1" fill="#d0d7db"/><rect x="626.91" y="390.2" width="3.5" height="76.5" fill="#d0d7db"/><rect x="631.51" y="417.5" width="3.5" height="49.2" fill="#d0d7db"/><rect x="636.11" y="427.5" width="3.5" height="39.2" fill="#d0d7db"/><rect x="640.72" y="411.4" width="3.5" height="55.3" fill="#d0d7db"/><rect x="645.32" y="426.3" width="3.5" height="40.4" fill="#d0d7db"/><rect x="649.92" y="421.3" width="3.5" height="45.4" fill="#d0d7db"/><rect x="654.52" y="392.3" width="3.5" height="74.4" fill="#d0d7db"/><rect x="659.13" y="386.1" width="3.5" height="80.6" fill="#d0d7db"/>
<polyline fill="none" stroke="#e8920f" stroke-width="1.5" points="389.3,464.1 393.9,464.5 398.5,464.5 403.1,464.1 407.7,464.3 412.3,464.5 416.9,464.3 421.5,464.7 426.1,464.5 430.7,463.9 435.3,464.5 439.9,463.9 444.5,464.3 449.1,464.3 453.7,464.5 458.3,464.1 462.9,464.1 467.6,464.7 472.2,464.3 476.8,464.5 481.4,464.5 486.0,464.3 490.6,464.3 495.2,464.7 499.8,464.1 504.4,464.1 509.0,464.7 513.6,464.1 518.2,464.5 522.8,464.3 527.4,464.7 532.0,463.9 536.6,464.7 541.2,463.9 545.8,464.1 550.4,464.5 555.0,463.9 559.6,464.3 564.2,463.9 568.8,464.3 573.4,464.3 578.0,464.5 582.6,464.7 587.2,464.3 591.8,464.7 596.4,464.3 601.0,464.3 605.6,464.7 610.2,464.5 614.8,464.3 619.5,464.1 624.1,464.3 628.7,463.9 633.3,463.9 637.9,464.1 642.5,464.3 647.1,464.1 651.7,464.3 656.3,464.7 660.9,464.3"/>
<circle cx="389.3" cy="464.1" r="1.85" fill="#e8920f"/><circle cx="393.9" cy="464.5" r="1.85" fill="#e8920f"/><circle cx="398.5" cy="464.5" r="1.85" fill="#e8920f"/><circle cx="403.1" cy="464.1" r="1.85" fill="#e8920f"/><circle cx="407.7" cy="464.3" r="1.85" fill="#e8920f"/><circle cx="412.3" cy="464.5" r="1.85" fill="#e8920f"/><circle cx="416.9" cy="464.3" r="1.85" fill="#e8920f"/><circle cx="421.5" cy="464.7" r="1.85" fill="#e8920f"/><circle cx="426.1" cy="464.5" r="1.85" fill="#e8920f"/><circle cx="430.7" cy="463.9" r="1.85" fill="#e8920f"/><circle cx="435.3" cy="464.5" r="1.85" fill="#e8920f"/><circle cx="439.9" cy="463.9" r="1.85" fill="#e8920f"/><circle cx="444.5" cy="464.3" r="1.85" fill="#e8920f"/><circle cx="449.1" cy="464.3" r="1.85" fill="#e8920f"/><circle cx="453.7" cy="464.5" r="1.85" fill="#e8920f"/><circle cx="458.3" cy="464.1" r="1.85" fill="#e8920f"/><circle cx="462.9" cy="464.1" r="1.85" fill="#e8920f"/><circle cx="467.6" cy="464.7" r="1.85" fill="#e8920f"/><circle cx="472.2" cy="464.3" r="1.85" fill="#e8920f"/><circle cx="476.8" cy="464.5" r="1.85" fill="#e8920f"/><circle cx="481.4" cy="464.5" r="1.85" fill="#e8920f"/><circle cx="486.0" cy="464.3" r="1.85" fill="#e8920f"/><circle cx="490.6" cy="464.3" r="1.85" fill="#e8920f"/><circle cx="495.2" cy="464.7" r="1.85" fill="#e8920f"/><circle cx="499.8" cy="464.1" r="1.85" fill="#e8920f"/><circle cx="504.4" cy="464.1" r="1.85" fill="#e8920f"/><circle cx="509.0" cy="464.7" r="1.85" fill="#e8920f"/><circle cx="513.6" cy="464.1" r="1.85" fill="#e8920f"/><circle cx="518.2" cy="464.5" r="1.85" fill="#e8920f"/><circle cx="522.8" cy="464.3" r="1.85" fill="#e8920f"/><circle cx="527.4" cy="464.7" r="1.85" fill="#e8920f"/><circle cx="532.0" cy="463.9" r="1.85" fill="#e8920f"/><circle cx="536.6" cy="464.7" r="1.85" fill="#e8920f"/><circle cx="541.2" cy="463.9" r="1.85" fill="#e8920f"/><circle cx="545.8" cy="464.1" r="1.85" fill="#e8920f"/><circle cx="550.4" cy="464.5" r="1.85" fill="#e8920f"/><circle cx="555.0" cy="463.9" r="1.85" fill="#e8920f"/><circle cx="559.6" cy="464.3" r="1.85" fill="#e8920f"/><circle cx="564.2" cy="463.9" r="1.85" fill="#e8920f"/><circle cx="568.8" cy="464.3" r="1.85" fill="#e8920f"/><circle cx="573.4" cy="464.3" r="1.85" fill="#e8920f"/><circle cx="578.0" cy="464.5" r="1.85" fill="#e8920f"/><circle cx="582.6" cy="464.7" r="1.85" fill="#e8920f"/><circle cx="587.2" cy="464.3" r="1.85" fill="#e8920f"/><circle cx="591.8" cy="464.7" r="1.85" fill="#e8920f"/><circle cx="596.4" cy="464.3" r="1.85" fill="#e8920f"/><circle cx="601.0" cy="464.3" r="1.85" fill="#e8920f"/><circle cx="605.6" cy="464.7" r="1.85" fill="#e8920f"/><circle cx="610.2" cy="464.5" r="1.85" fill="#e8920f"/><circle cx="614.8" cy="464.3" r="1.85" fill="#e8920f"/><circle cx="619.5" cy="464.1" r="1.85" fill="#e8920f"/><circle cx="624.1" cy="464.3" r="1.85" fill="#e8920f"/><circle cx="628.7" cy="463.9" r="1.85" fill="#e8920f"/><circle cx="633.3" cy="463.9" r="1.85" fill="#e8920f"/><circle cx="637.9" cy="464.1" r="1.85" fill="#e8920f"/><circle cx="642.5" cy="464.3" r="1.85" fill="#e8920f"/><circle cx="647.1" cy="464.1" r="1.85" fill="#e8920f"/><circle cx="651.7" cy="464.3" r="1.85" fill="#e8920f"/><circle cx="656.3" cy="464.7" r="1.85" fill="#e8920f"/><circle cx="660.9" cy="464.3" r="1.85" fill="#e8920f"/>
<polyline fill="none" stroke="#1278a6" stroke-width="1.5" stroke-linejoin="round" points="389.3,420.7 393.9,406.2 398.5,416.3 403.1,403.5 407.7,421.4 412.3,391.0 416.9,426.8 421.5,402.3 426.1,389.0 430.7,383.3 435.3,383.8 439.9,383.3 444.5,409.6 449.1,414.8 453.7,400.1 458.3,377.2 462.9,401.5 467.6,399.6 472.2,392.4 476.8,407.2 481.4,400.1 486.0,401.0 490.6,398.6 495.2,384.1 499.8,388.3 504.4,410.9 509.0,406.2 513.6,400.6 518.2,396.1 522.8,398.1 527.4,381.1 532.0,382.4 536.6,385.3 541.2,400.6 545.8,387.8 550.4,392.9 555.0,382.4 559.6,404.2 564.2,399.3 568.8,418.0 573.4,391.5 578.0,395.1 582.6,391.9 587.2,396.1 591.8,383.3 596.4,385.8 601.0,387.0 605.6,385.6 610.2,376.5 614.8,401.0 619.5,389.0 624.1,419.0 628.7,389.5 633.3,401.3 637.9,381.6 642.5,390.0 647.1,403.5 651.7,371.6 656.3,398.1 660.9,401.8"/>
<circle cx="389.3" cy="420.7" r="1.9" fill="#1278a6"/><circle cx="393.9" cy="406.2" r="1.9" fill="#1278a6"/><circle cx="398.5" cy="416.3" r="1.9" fill="#1278a6"/><circle cx="403.1" cy="403.5" r="1.9" fill="#1278a6"/><circle cx="407.7" cy="421.4" r="1.9" fill="#1278a6"/><circle cx="412.3" cy="391.0" r="1.9" fill="#1278a6"/><circle cx="416.9" cy="426.8" r="1.9" fill="#1278a6"/><circle cx="421.5" cy="402.3" r="1.9" fill="#1278a6"/><circle cx="426.1" cy="389.0" r="1.9" fill="#1278a6"/><circle cx="430.7" cy="383.3" r="1.9" fill="#1278a6"/><circle cx="435.3" cy="383.8" r="1.9" fill="#1278a6"/><circle cx="439.9" cy="383.3" r="1.9" fill="#1278a6"/><circle cx="444.5" cy="409.6" r="1.9" fill="#1278a6"/><circle cx="449.1" cy="414.8" r="1.9" fill="#1278a6"/><circle cx="453.7" cy="400.1" r="1.9" fill="#1278a6"/><circle cx="458.3" cy="377.2" r="1.9" fill="#1278a6"/><circle cx="462.9" cy="401.5" r="1.9" fill="#1278a6"/><circle cx="467.6" cy="399.6" r="1.9" fill="#1278a6"/><circle cx="472.2" cy="392.4" r="1.9" fill="#1278a6"/><circle cx="476.8" cy="407.2" r="1.9" fill="#1278a6"/><circle cx="481.4" cy="400.1" r="1.9" fill="#1278a6"/><circle cx="486.0" cy="401.0" r="1.9" fill="#1278a6"/><circle cx="490.6" cy="398.6" r="1.9" fill="#1278a6"/><circle cx="495.2" cy="384.1" r="1.9" fill="#1278a6"/><circle cx="499.8" cy="388.3" r="1.9" fill="#1278a6"/><circle cx="504.4" cy="410.9" r="1.9" fill="#1278a6"/><circle cx="509.0" cy="406.2" r="1.9" fill="#1278a6"/><circle cx="513.6" cy="400.6" r="1.9" fill="#1278a6"/><circle cx="518.2" cy="396.1" r="1.9" fill="#1278a6"/><circle cx="522.8" cy="398.1" r="1.9" fill="#1278a6"/><circle cx="527.4" cy="381.1" r="1.9" fill="#1278a6"/><circle cx="532.0" cy="382.4" r="1.9" fill="#1278a6"/><circle cx="536.6" cy="385.3" r="1.9" fill="#1278a6"/><circle cx="541.2" cy="400.6" r="1.9" fill="#1278a6"/><circle cx="545.8" cy="387.8" r="1.9" fill="#1278a6"/><circle cx="550.4" cy="392.9" r="1.9" fill="#1278a6"/><circle cx="555.0" cy="382.4" r="1.9" fill="#1278a6"/><circle cx="559.6" cy="404.2" r="1.9" fill="#1278a6"/><circle cx="564.2" cy="399.3" r="1.9" fill="#1278a6"/><circle cx="568.8" cy="418.0" r="1.9" fill="#1278a6"/><circle cx="573.4" cy="391.5" r="1.9" fill="#1278a6"/><circle cx="578.0" cy="395.1" r="1.9" fill="#1278a6"/><circle cx="582.6" cy="391.9" r="1.9" fill="#1278a6"/><circle cx="587.2" cy="396.1" r="1.9" fill="#1278a6"/><circle cx="591.8" cy="383.3" r="1.9" fill="#1278a6"/><circle cx="596.4" cy="385.8" r="1.9" fill="#1278a6"/><circle cx="601.0" cy="387.0" r="1.9" fill="#1278a6"/><circle cx="605.6" cy="385.6" r="1.9" fill="#1278a6"/><circle cx="610.2" cy="376.5" r="1.9" fill="#1278a6"/><circle cx="614.8" cy="401.0" r="1.9" fill="#1278a6"/><circle cx="619.5" cy="389.0" r="1.9" fill="#1278a6"/><circle cx="624.1" cy="419.0" r="1.9" fill="#1278a6"/><circle cx="628.7" cy="389.5" r="1.9" fill="#1278a6"/><circle cx="633.3" cy="401.3" r="1.9" fill="#1278a6"/><circle cx="637.9" cy="381.6" r="1.9" fill="#1278a6"/><circle cx="642.5" cy="390.0" r="1.9" fill="#1278a6"/><circle cx="647.1" cy="403.5" r="1.9" fill="#1278a6"/><circle cx="651.7" cy="371.6" r="1.9" fill="#1278a6"/><circle cx="656.3" cy="398.1" r="1.9" fill="#1278a6"/><circle cx="660.9" cy="401.8" r="1.9" fill="#1278a6"/>
</svg>
<div class="t ax" style="left:24.5px;top:202.4px;transform:translate(0,-50%);">600</div>
<div class="t ax" style="left:24.5px;top:247.9px;transform:translate(0,-50%);">400</div>
<div class="t ax" style="left:24.5px;top:292.9px;transform:translate(0,-50%);">200</div>
<div class="t axd" style="left:99.878px;top:300.4px;transform:translate(-50%,-50%);">07 Jan</div>
<div class="t axd" style="left:441.265px;top:300.4px;transform:translate(-50%,-50%);">07 Jan</div>
<div class="t axd" style="left:96.116px;top:473.5px;transform:translate(-50%,-50%);">07 Jan</div>
<div class="t axd" style="left:439.933px;top:473.5px;transform:translate(-50%,-50%);">07 Jan</div>
<div class="t axd" style="left:167.05px;top:300.4px;transform:translate(-50%,-50%);">21 Jan</div>
<div class="t axd" style="left:507.275px;top:300.4px;transform:translate(-50%,-50%);">21 Jan</div>
<div class="t axd" style="left:162.7px;top:473.5px;transform:translate(-50%,-50%);">21 Jan</div>
<div class="t axd" style="left:504.375px;top:473.5px;transform:translate(-50%,-50%);">21 Jan</div>
<div class="t axd" style="left:234.222px;top:300.4px;transform:translate(-50%,-50%);">04 Feb</div>
<div class="t axd" style="left:573.285px;top:300.4px;transform:translate(-50%,-50%);">04 Feb</div>
<div class="t axd" style="left:229.284px;top:473.5px;transform:translate(-50%,-50%);">04 Feb</div>
<div class="t axd" style="left:568.817px;top:473.5px;transform:translate(-50%,-50%);">04 Feb</div>
<div class="t axd" style="left:301.394px;top:300.4px;transform:translate(-50%,-50%);">18 Feb</div>
<div class="t axd" style="left:639.295px;top:300.4px;transform:translate(-50%,-50%);">18 Feb</div>
<div class="t axd" style="left:295.868px;top:473.5px;transform:translate(-50%,-50%);">18 Feb</div>
<div class="t axd" style="left:633.259px;top:473.5px;transform:translate(-50%,-50%);">18 Feb</div>
<div class="t axs" style="left:370.5px;top:221.1px;transform:translate(0,-50%);">15K</div>
<div class="t axs" style="left:370.5px;top:261.6px;transform:translate(0,-50%);">10K</div>
<div class="t ax clip" style="left:677.6px;top:212.6px;transform:translate(0,-50%);">600</div>
<div class="t ax clip" style="left:677.6px;top:245.2px;transform:translate(0,-50%);">400</div>
<div class="t ax clip" style="left:677.6px;top:277.9px;transform:translate(0,-50%);">200</div>
<div class="t ax" style="left:24.5px;top:369.2px;transform:translate(0,-50%);">20K</div>
<div class="t ax" style="left:24.5px;top:393.7px;transform:translate(0,-50%);">15K</div>
<div class="t ax" style="left:24.5px;top:418.3px;transform:translate(0,-50%);">10K</div>
<div class="t ax" style="left:24.5px;top:442.6px;transform:translate(0,-50%);">5K</div>
<div class="t ax" style="left:24.5px;top:467.2px;transform:translate(0,-50%);">0K</div>
<div class="t ax" style="left:331.3px;top:368.7px;transform:translate(0,-50%);">80</div>
<div class="t ax" style="left:331.3px;top:402px;transform:translate(0,-50%);">60</div>
<div class="t ax" style="left:331.3px;top:434.8px;transform:translate(0,-50%);">40</div>
<div class="t ax" style="left:331.3px;top:467.2px;transform:translate(0,-50%);">20</div>
<div class="t ax" style="left:369.8px;top:375.8px;transform:translate(0,-50%);">600</div>
<div class="t ax" style="left:369.8px;top:406.3px;transform:translate(0,-50%);">400</div>
<div class="t ax" style="left:369.8px;top:436.8px;transform:translate(0,-50%);">200</div>
<div class="t ax" style="left:378.4px;top:467.1px;transform:translate(0,-50%);">0</div>
<div class="t ax" style="left:668.8px;top:376.6px;transform:translate(0,-50%);font-size:7.2px">150%</div>
<div class="t ax" style="left:668.8px;top:406.8px;transform:translate(0,-50%);font-size:7.2px">100%</div>
<div class="t ax" style="left:668.8px;top:437.3px;transform:translate(0,-50%);font-size:7.2px">50%</div>
<div class="t ax" style="left:668.8px;top:467.2px;transform:translate(0,-50%);font-size:7.2px">0%</div>
</body></html>
